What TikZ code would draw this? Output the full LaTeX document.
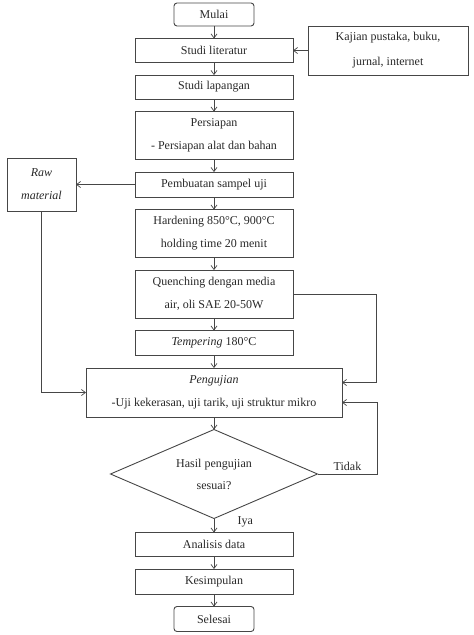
\documentclass[tikz,border=0pt]{standalone}
\usepackage{fontspec}
\setmainfont{Liberation Serif}
\usepackage{xcolor}
\usepackage{tikz}
\usetikzlibrary{positioning,arrows.meta,shapes.geometric,calc}
\definecolor{linecolor}{RGB}{70,70,70}
\definecolor{textcolor}{RGB}{40,40,40}
\tikzset{
  flow box/.style={
    rectangle,
    draw=linecolor,
    line width=0.9pt,
    minimum width=158pt,
    minimum height=24pt,
    inner sep=2pt,
    outer sep=0pt,
    align=center,
    text=textcolor,
    font=\fontsize{12}{23}\selectfont
  },
  flow tall/.style={
    flow box,
    minimum height=48pt
  },
  flow term/.style={
    flow box,
    rounded corners=3pt,
    minimum width=80pt,
    minimum height=23pt
  },
  flow dec/.style={
    diamond,
    draw=linecolor,
    line width=0.9pt,
    aspect=2.33,
    minimum width=207pt,
    minimum height=89pt,
    inner sep=0pt,
    outer sep=0pt,
    align=center,
    text=textcolor,
    font=\fontsize{12}{22}\selectfont
  },
  flow label/.style={
    text=textcolor,
    font=\fontsize{12}{14}\selectfont
  },
  arrow/.style={
    ->,
    >={Straight Barb[length=4pt,width=6pt]},
    draw=linecolor,
    line width=0.7pt
  }
}

\begin{document}
\begin{tikzpicture}[x=1pt, y=1pt, node distance=12.5pt]

  \useasboundingbox (0,0) rectangle (474,-635);

  % Main chain
  \node[flow term] (mulai) at (214,-14.5) {Mulai};
  \node[flow box, below=of mulai] (literatur) {Studi literatur};
  \node[flow box, below=of literatur] (lapangan) {Studi lapangan};
  \node[flow tall, below=of lapangan] (persiapan) {Persiapan\\- Persiapan alat dan bahan};
  \node[flow box, below=of persiapan, minimum height=25pt] (sampel) {Pembuatan sampel uji};
  \node[flow tall, below=of sampel] (hardening) {Hardening 850°C, 900°C\\holding time 20 menit};
  \node[flow tall, below=of hardening] (quenching) {Quenching dengan media\\air, oli SAE 20-50W};
  \node[flow box, below=of quenching, minimum height=25pt] (tempering) {\textit{Tempering} 180°C};
  \node[flow box, below=of tempering, minimum width=256pt, minimum height=49pt] (pengujian) {\textit{Pengujian}\\-Uji kekerasan, uji tarik, uji struktur mikro};
  \node[flow dec, below=of pengujian] (cek) {Hasil pengujian\\sesuai?};
  \node[flow box, below=14pt of cek] (analisis) {Analisis data};
  \node[flow box, below=of analisis, minimum height=25pt] (kesimpulan) {Kesimpulan};
  \node[flow term, below=of kesimpulan, minimum height=25pt] (selesai) {Selesai};

  % Side boxes
  \node[flow box, right=15pt of literatur, minimum width=160pt, minimum height=49pt, font=\fontsize{12}{25}\selectfont] (kajian) {Kajian pustaka, buku,\\jurnal, internet};
  \node[flow box, left=59pt of sampel, minimum width=69pt, minimum height=53pt] (raw) {\textit{Raw}\\\textit{material}};

  % Main flow
  \draw[arrow] (mulai) -- (literatur);
  \draw[arrow] (literatur) -- (lapangan);
  \draw[arrow] (lapangan) -- (persiapan);
  \draw[arrow] (persiapan) -- (sampel);
  \draw[arrow] (sampel) -- (hardening);
  \draw[arrow] (hardening) -- (quenching);
  \draw[arrow] (quenching) -- (tempering);
  \draw[arrow] (tempering) -- (pengujian);
  \draw[arrow] (pengujian) -- (cek);
  \draw[arrow] (cek) -- node[flow label, pos=0.25, right=20pt] {Iya} (analisis);
  \draw[arrow] (analisis) -- (kesimpulan);
  \draw[arrow] (kesimpulan) -- (selesai);

  % Side links
  \draw[arrow] (kajian) -- (literatur);
  \draw[arrow] (sampel) -- (raw);
  \draw[arrow] (raw.south) |- (pengujian.west);
  \draw[arrow] (quenching.east) -- ++(83,0) |- ([yshift=10pt]pengujian.east);
  \draw[arrow] (cek.east) -- node[flow label, above] {Tidak} ++(60,0) |- ([yshift=-10pt]pengujian.east);

\end{tikzpicture}
\end{document}
